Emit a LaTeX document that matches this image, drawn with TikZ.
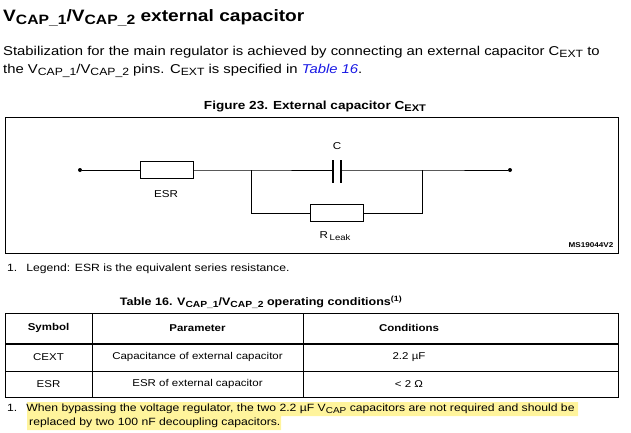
\documentclass[tikz,border=0pt]{standalone}
\usepackage{fontspec}
\setmainfont[FakeStretch=1.16]{Liberation Sans}
\newcommand{\mysub}[1]{\raisebox{-0.35ex}{\scalebox{0.82}{#1}}}
\begin{document}
\begin{tikzpicture}[x=1pt,y=-1pt,
  body/.style={font=\fontsize{12.8}{15}\selectfont,inner sep=0pt},
  tbl/.style={font=\fontsize{9.9}{12}\selectfont,inner sep=0pt},
  tblh/.style={font=\fontsize{9.9}{12}\selectfont\bfseries,inner sep=0pt},
  res/.style={draw,minimum width=53pt,minimum height=17pt,inner sep=0pt},
  lbl/.style={font=\fontsize{10}{12}\selectfont,inner sep=0pt},
  note/.style={font=\fontsize{10.5}{12}\selectfont,inner sep=0pt,anchor=west},
  dot/.style={circle,fill,inner sep=0pt,minimum size=4pt}]
\useasboundingbox (0,0) rectangle (631,432);
% heading
\node[anchor=west,inner sep=0pt,font=\fontsize{16.5}{19}\selectfont\bfseries] (h) at (3,18) {V\mysub{CAP\_1}/V\mysub{CAP\_2} external capacitor};
\node[body,anchor=west] (p1) at (3,52) {Stabilization for the main regulator is achieved by connecting an external capacitor C\mysub{EXT} to};
\node[body,anchor=west] (p2) at (3,71) {the V\mysub{CAP\_1}/V\mysub{CAP\_2} pins. C\mysub{EXT} is specified in \textcolor[rgb]{0.1,0.1,0.9}{\itshape Table 16}.};
\node[inner sep=0pt,font=\fontsize{11.7}{14}\selectfont\bfseries] (fc) at (315,106) {Figure 23. External capacitor C\mysub{EXT}};
\draw (5,117) rectangle (618,253);
% circuit
\node[dot] (l) at (80,170) {};
\node[dot] (r) at (510,170) {};
\node[res] (esr) at (166.5,170) {};
\node[res] (rl) at (336.5,213) {};
\coordinate (j1) at (251,170);
\coordinate (j2) at (422,170);
\coordinate (c1) at (333,170);
\coordinate (c2) at (341,170);
\draw (l) -- (esr) -- (j1) -- (c1);
\draw (c2) -- (j2) -- (r);
\draw[line width=1.2pt] (333,160) -- (333,183) (341,160) -- (341,183);
\draw (j1) |- (rl.west) (rl.east) -| (j2);
\node[lbl] (cl) at (337,146) {C};
\node[lbl] (el) at (166,194) {ESR};
\node[lbl] (rll) at (335,236) {R\,\mysub{Leak}};
\node[inner sep=0pt,font=\fontsize{7}{8}\selectfont\bfseries] (ms) at (591,245) {MS19044V2};
\node[note] (f1) at (7,269) {1.\hspace{9pt}Legend: ESR is the equivalent series resistance.};
% table
\node[inner sep=0pt,font=\fontsize{10.8}{13}\selectfont\bfseries] (tc) at (261,302) {Table 16. V\mysub{CAP\_1}/V\mysub{CAP\_2} operating conditions\textsuperscript{(1)}};
\draw (5,313) rectangle (618,397);
\draw (92,313) -- (92,397) (303,313) -- (303,397);
\draw[line width=2pt] (5,344) -- (618,344);
\draw (5,371) -- (618,371);
\node[tblh] (hs) at (48.5,328) {Symbol};
\node[tblh] (hp) at (197.5,328) {Parameter};
\node[tblh] (hc) at (409,328) {Conditions};
\node[tbl] (a1) at (48.5,357) {CEXT};
\node[tbl] (a2) at (197.5,357) {Capacitance of external capacitor};
\node[tbl] (a3) at (409,357) {2.2 µF};
\node[tbl] (b1) at (48.5,384) {ESR};
\node[tbl] (b2) at (197.5,384) {ESR of external capacitor};
\node[tbl] (b3) at (409,384) {< 2 Ω};
% footnote
\fill[yellow!35!white!95!orange] (27,402) rectangle (578,416) (27,416) rectangle (281,430);
\node[note] (n1) at (7,409) {1.\hspace{9pt}When bypassing the voltage regulator, the two 2.2 µF V\mysub{CAP} capacitors are not required and should be};
\node[note] (n2) at (29,423) {replaced by two 100 nF decoupling capacitors.};
\end{tikzpicture}
\end{document}
